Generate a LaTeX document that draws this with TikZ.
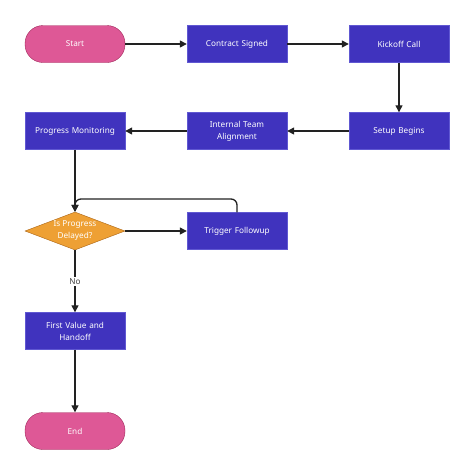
\documentclass[tikz,border=0pt]{standalone}
\usepackage{fontspec}
\setmainfont{Noto Sans}
\usetikzlibrary{arrows.meta,positioning,shapes.geometric}

\begin{document}
\begin{tikzpicture}[x=1pt, y=-1pt]
			\definecolor{stepColour}{RGB}{64, 51, 190}
			\definecolor{stepBorder}{RGB}{96, 88, 210}
			\definecolor{termColour}{RGB}{222, 88, 150}
			\definecolor{termBorder}{RGB}{160, 40, 90}
			\definecolor{decisionColour}{RGB}{238, 160, 52}
			\definecolor{decisionBorder}{RGB}{170, 100, 20}
			\definecolor{lineColour}{RGB}{34, 34, 34}
			\tikzstyle{process}=[rectangle, draw=stepBorder, fill=stepColour, text=white, minimum width=100pt, minimum height=37pt, inner sep=2pt, align=center, text width=94pt, font=\fontsize{8.2}{12}\selectfont]
			\tikzstyle{terminal}=[process, rounded corners=18pt, draw=termBorder, fill=termColour]
			\tikzstyle{decision}=[diamond, aspect=2.6, draw=decisionBorder, fill=decisionColour, text=white, minimum width=100pt, minimum height=38pt, inner sep=0pt, align=center, font=\fontsize{8.2}{12}\selectfont]
			\tikzstyle{flow}=[-{Triangle[length=7pt, width=7pt]}, line width=1.3pt, color=lineColour]

			\useasboundingbox (0,0) rectangle (474,474);

			\node [terminal] (start) at (75,44) {Start};
			\node [process] (contract) at (237,44) {Contract Signed};
			\node [process] (kickoff) at (399,44) {Kickoff Call};
			\node [process] (setup) at (399,131) {Setup Begins};
			\node [process] (internal) at (237,131) {Internal Team\\Alignment};
			\node [process] (monitor) at (75,131) {Progress Monitoring};
			\node [decision] (delayed) at (75,231) {Is Progress\\Delayed?};
			\node [process] (followup) at (237,231) {Trigger Followup};
			\node [process] (handoff) at (75,331) {First Value and\\Handoff};
			\node [terminal] (end) at (75,431) {End};

			\draw [flow] (start) -- (contract);
			\draw [flow] (contract) -- (kickoff);
			\draw [flow] (kickoff) -- (setup);
			\draw [flow] (setup) -- (internal);
			\draw [flow] (internal) -- (monitor);
			\draw [flow] (monitor) -- (delayed);
			\draw [flow] (delayed) -- (followup);
			\draw [flow, rounded corners=6pt] (followup.north) |- (75,199) -- (delayed.north);
			\draw [flow] (delayed) -- node [fill=white, text=darkgray, inner sep=1.5pt, font=\fontsize{8.2}{10}\selectfont] {No} (handoff);
			\draw [flow] (handoff) -- (end);
		\end{tikzpicture}
\end{document}
